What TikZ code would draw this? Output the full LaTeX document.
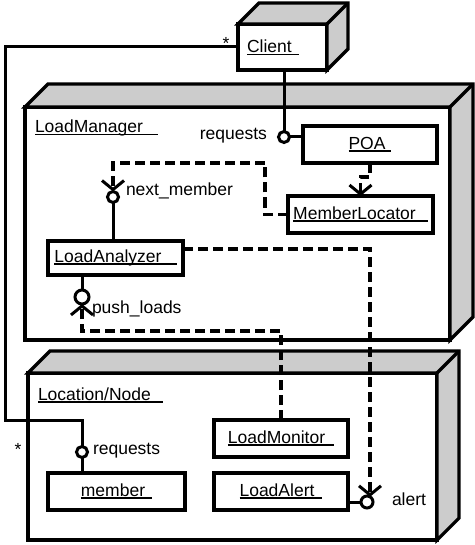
\documentclass[tikz,border=0pt]{standalone}
\usepackage{fontspec}
\setmainfont{Liberation Sans}
\usetikzlibrary{arrows.meta}
\newcommand{\objname}[2]{\setbox0\hbox{#1\hspace*{#2}}\rlap{\rule[-2.5pt]{\wd0}{1.9pt}}#1\hspace*{#2}}
\begin{document}
\begin{tikzpicture}[x=1pt,y=-1pt,inner sep=0pt,outer sep=0pt,line width=3pt,
font=\fontsize{17.5}{20}\selectfont,
devfront/.style={draw,rectangle,fill=white,line width=3.2pt},
face/.style={draw,fill=black!20,line width=3.2pt},
objbox/.style={draw,rectangle,fill=white,minimum height=37pt,line width=3.2pt},
lolli/.style={draw,circle,fill=white,minimum size=11pt,line width=3pt},
dep/.style={line width=3.8pt,dash pattern=on 10pt off 5pt,
  -{Straight Barb[length=9pt,width=22pt,line width=3pt]}}]
\useasboundingbox (0,0) rectangle (474,545);
% nodes of the deployment
\node[devfront,minimum width=89pt,minimum height=46pt] (client) at (282.5,47) {};
\node[devfront,minimum width=425pt,minimum height=233pt] (lm) at (237.5,223.5) {};
\node[devfront,minimum width=409pt,minimum height=167pt] (loc) at (232.5,456.5) {};
\foreach \n/\d in {client/21,lm/23,loc/22} {
  \draw[face] (\n.north west) -- ++(\d,-\d) -| ([shift={(\d,-\d)}]\n.south east) -- (\n.south east) -- (\n.north east) -- cycle;
  \draw[line width=3.2pt] (\n.north east) -- ++(\d,-\d);
}
\node[anchor=base west] at (247,53) {\objname{Client}{7pt}};
\node[anchor=base west] (lmlbl) at (35,133) {\objname{LoadManager}{15pt}};
\node[anchor=base west] (loclbl) at (38,400) {\objname{Location/Node}{12pt}};
% objects
\node[objbox,minimum width=134pt] (POA) at (370,144.5) {\objname{POA}{6pt}};
\node[objbox,minimum width=145pt] (ML) at (360.5,214.5) {\objname{MemberLocator}{12pt}};
\node[objbox,minimum width=135pt,minimum height=34pt] (LA) at (115.5,258) {\objname{LoadAnalyzer}{15pt}};
\node[objbox,minimum width=134pt] (LM) at (281,438.5) {\objname{LoadMonitor}{9pt}};
\node[objbox,minimum width=134pt] (LAl) at (281,491.5) {\objname{LoadAlert}{8pt}};
\node[objbox,minimum width=137pt] (member) at (116.5,491.5) {\objname{member}{7pt}};
% interfaces
\node[lolli] (reqc) at (284,137) {};
\node[lolli] (nextc) at (113,197) {};
\node[lolli,minimum size=14pt] (pushc) at (82,297) {};
\node[lolli] (memc) at (82,452) {};
\node[lolli,minimum size=12pt] (alertc) at (367,502) {};
\node[anchor=base east] (reqlbl) at (267,140) {requests};
\node[anchor=base west] (nextlbl) at (126,196) {next\_member};
\node[anchor=base west] (pushlbl) at (92,313) {push\_loads};
\node[anchor=base west] (memreqlbl) at (93,454) {requests};
\node[anchor=base west] (alertlbl) at (392,505) {alert};
\node[anchor=base] (star1) at (226,50) {*};
\node[anchor=base] (star2) at (18,455) {*};
% connectors
\draw (reqc.north) -- (reqc.north |- client.south);
\draw (reqc.east) -- (reqc -| POA.west);
\draw (nextc.south) -- (nextc |- LA.north);
\draw (pushc.north) -- (pushc |- LA.south);
\draw (alertc.west) -- (alertc -| LAl.east);
\draw (memc.south) -- (memc |- member.north);
\draw (client.west) -| ++(-233,373) -| (memc.north);
\draw[dep] (POA.south) -- ++(0,14) -| (ML.north);
\draw[dep] (ML.west) -| ++(-23,-51.5) -| (nextc.north);
\draw[dep] (LM.north) -- ++(0,-89) -| (pushc.south);
\draw[dep] ([yshift=9pt]LA.east) -| (alertc.60);
\end{tikzpicture}
\end{document}
